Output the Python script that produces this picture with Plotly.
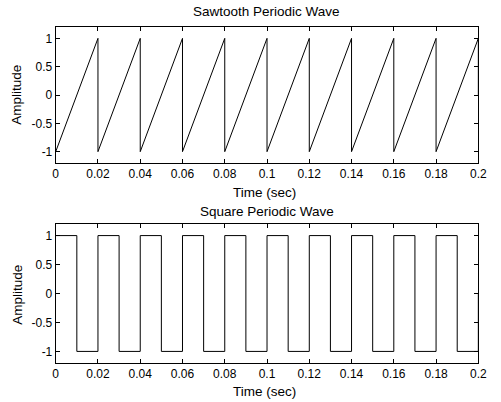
import plotly.graph_objects as go
from plotly.subplots import make_subplots

# sawtooth corners: ramps -1 -> 1 each 0.02 s, drops back
saw_t = [0, 0.02, 0.02, 0.04, 0.04, 0.06, 0.06, 0.08, 0.08, 0.10, 0.10,
         0.12, 0.12, 0.14, 0.14, 0.16, 0.16, 0.18, 0.18, 0.20, 0.20]
saw_y = [-1, 1, -1, 1, -1, 1, -1, 1, -1, 1, -1,
         1, -1, 1, -1, 1, -1, 1, -1, 1, 0]

# square wave corners
sq_t = [0, 0.01, 0.01, 0.02, 0.02, 0.03, 0.03, 0.04, 0.04, 0.05, 0.05,
        0.06, 0.06, 0.07, 0.07, 0.08, 0.08, 0.09, 0.09, 0.10, 0.10,
        0.11, 0.11, 0.12, 0.12, 0.13, 0.13, 0.14, 0.14, 0.15, 0.15,
        0.16, 0.16, 0.17, 0.17, 0.18, 0.18, 0.19, 0.19, 0.20, 0.20]
sq_y = [1, 1, -1, -1, 1, 1, -1, -1, 1, 1, -1,
        -1, 1, 1, -1, -1, 1, 1, -1, -1, 1,
        1, -1, -1, 1, 1, -1, -1, 1, 1, -1,
        -1, 1, 1, -1, -1, 1, 1, -1, -1, 0]

x_ticks = [0, 0.02, 0.04, 0.06, 0.08, 0.1, 0.12, 0.14, 0.16, 0.18, 0.2]
x_labels = ['0', '0.02', '0.04', '0.06', '0.08', '0.1', '0.12', '0.14', '0.16', '0.18', '0.2']
y_ticks = [-1, -0.5, 0, 0.5, 1]
y_labels = ['-1', '-0.5', '0', '0.5', '1']

W, H = 501, 402

tick_font = dict(family="Liberation Sans, Arial, sans-serif", size=12, color="black")
label_font = dict(family="Liberation Sans, Arial, sans-serif", size=13.5, color="black")

fig = make_subplots(rows=2, cols=1)
line_style = dict(color="black", width=1)
fig.add_trace(go.Scatter(x=saw_t, y=saw_y, mode="lines", line=line_style), row=1, col=1)
fig.add_trace(go.Scatter(x=sq_t, y=sq_y, mode="lines", line=line_style), row=2, col=1)

def px_x(v):
    return v / W

def px_y(v):
    return 1 - v / H

axis_style = dict(showline=True, linecolor="black", linewidth=1, mirror="ticks",
                  ticks="inside", ticklen=4, tickcolor="black", showgrid=False,
                  zeroline=False, tickfont=tick_font)
fig.update_xaxes(range=[0, 0.2], tickvals=x_ticks, ticktext=x_labels,
                 domain=[px_x(54), px_x(487)], **axis_style)
fig.update_yaxes(range=[-1.2, 1.2], tickvals=y_ticks, ticktext=y_labels, **axis_style)
fig.update_yaxes(domain=[px_y(163), px_y(27)], row=1, col=1)
fig.update_yaxes(domain=[px_y(363), px_y(224)], row=2, col=1)

# titles / labels placed like the matlab figure
notes = [
    ("Sawtooth Periodic Wave", 270, 11, 0),
    ("Time (sec)", 268, 192, 0),
    ("Amplitude", 14, 95, -90),
    ("Square Periodic Wave", 270, 211, 0),
    ("Time (sec)", 268, 391, 0),
    ("Amplitude", 14, 295, -90),
]
for text, x, y, ang in notes:
    fig.add_annotation(text=text, x=px_x(x), y=px_y(y), xref="paper", yref="paper",
                       showarrow=False, textangle=ang, font=label_font,
                       xanchor="center", yanchor="middle")

fig.update_layout(width=W, height=H, margin=dict(l=0, r=0, t=0, b=0),
                  showlegend=False, plot_bgcolor="white", paper_bgcolor="white")
# drop the default 8px page margin so the figure fills the window
fig.write_html("out.html", config={"displayModeBar": False},
               post_script="document.body.style.margin = '0';")
